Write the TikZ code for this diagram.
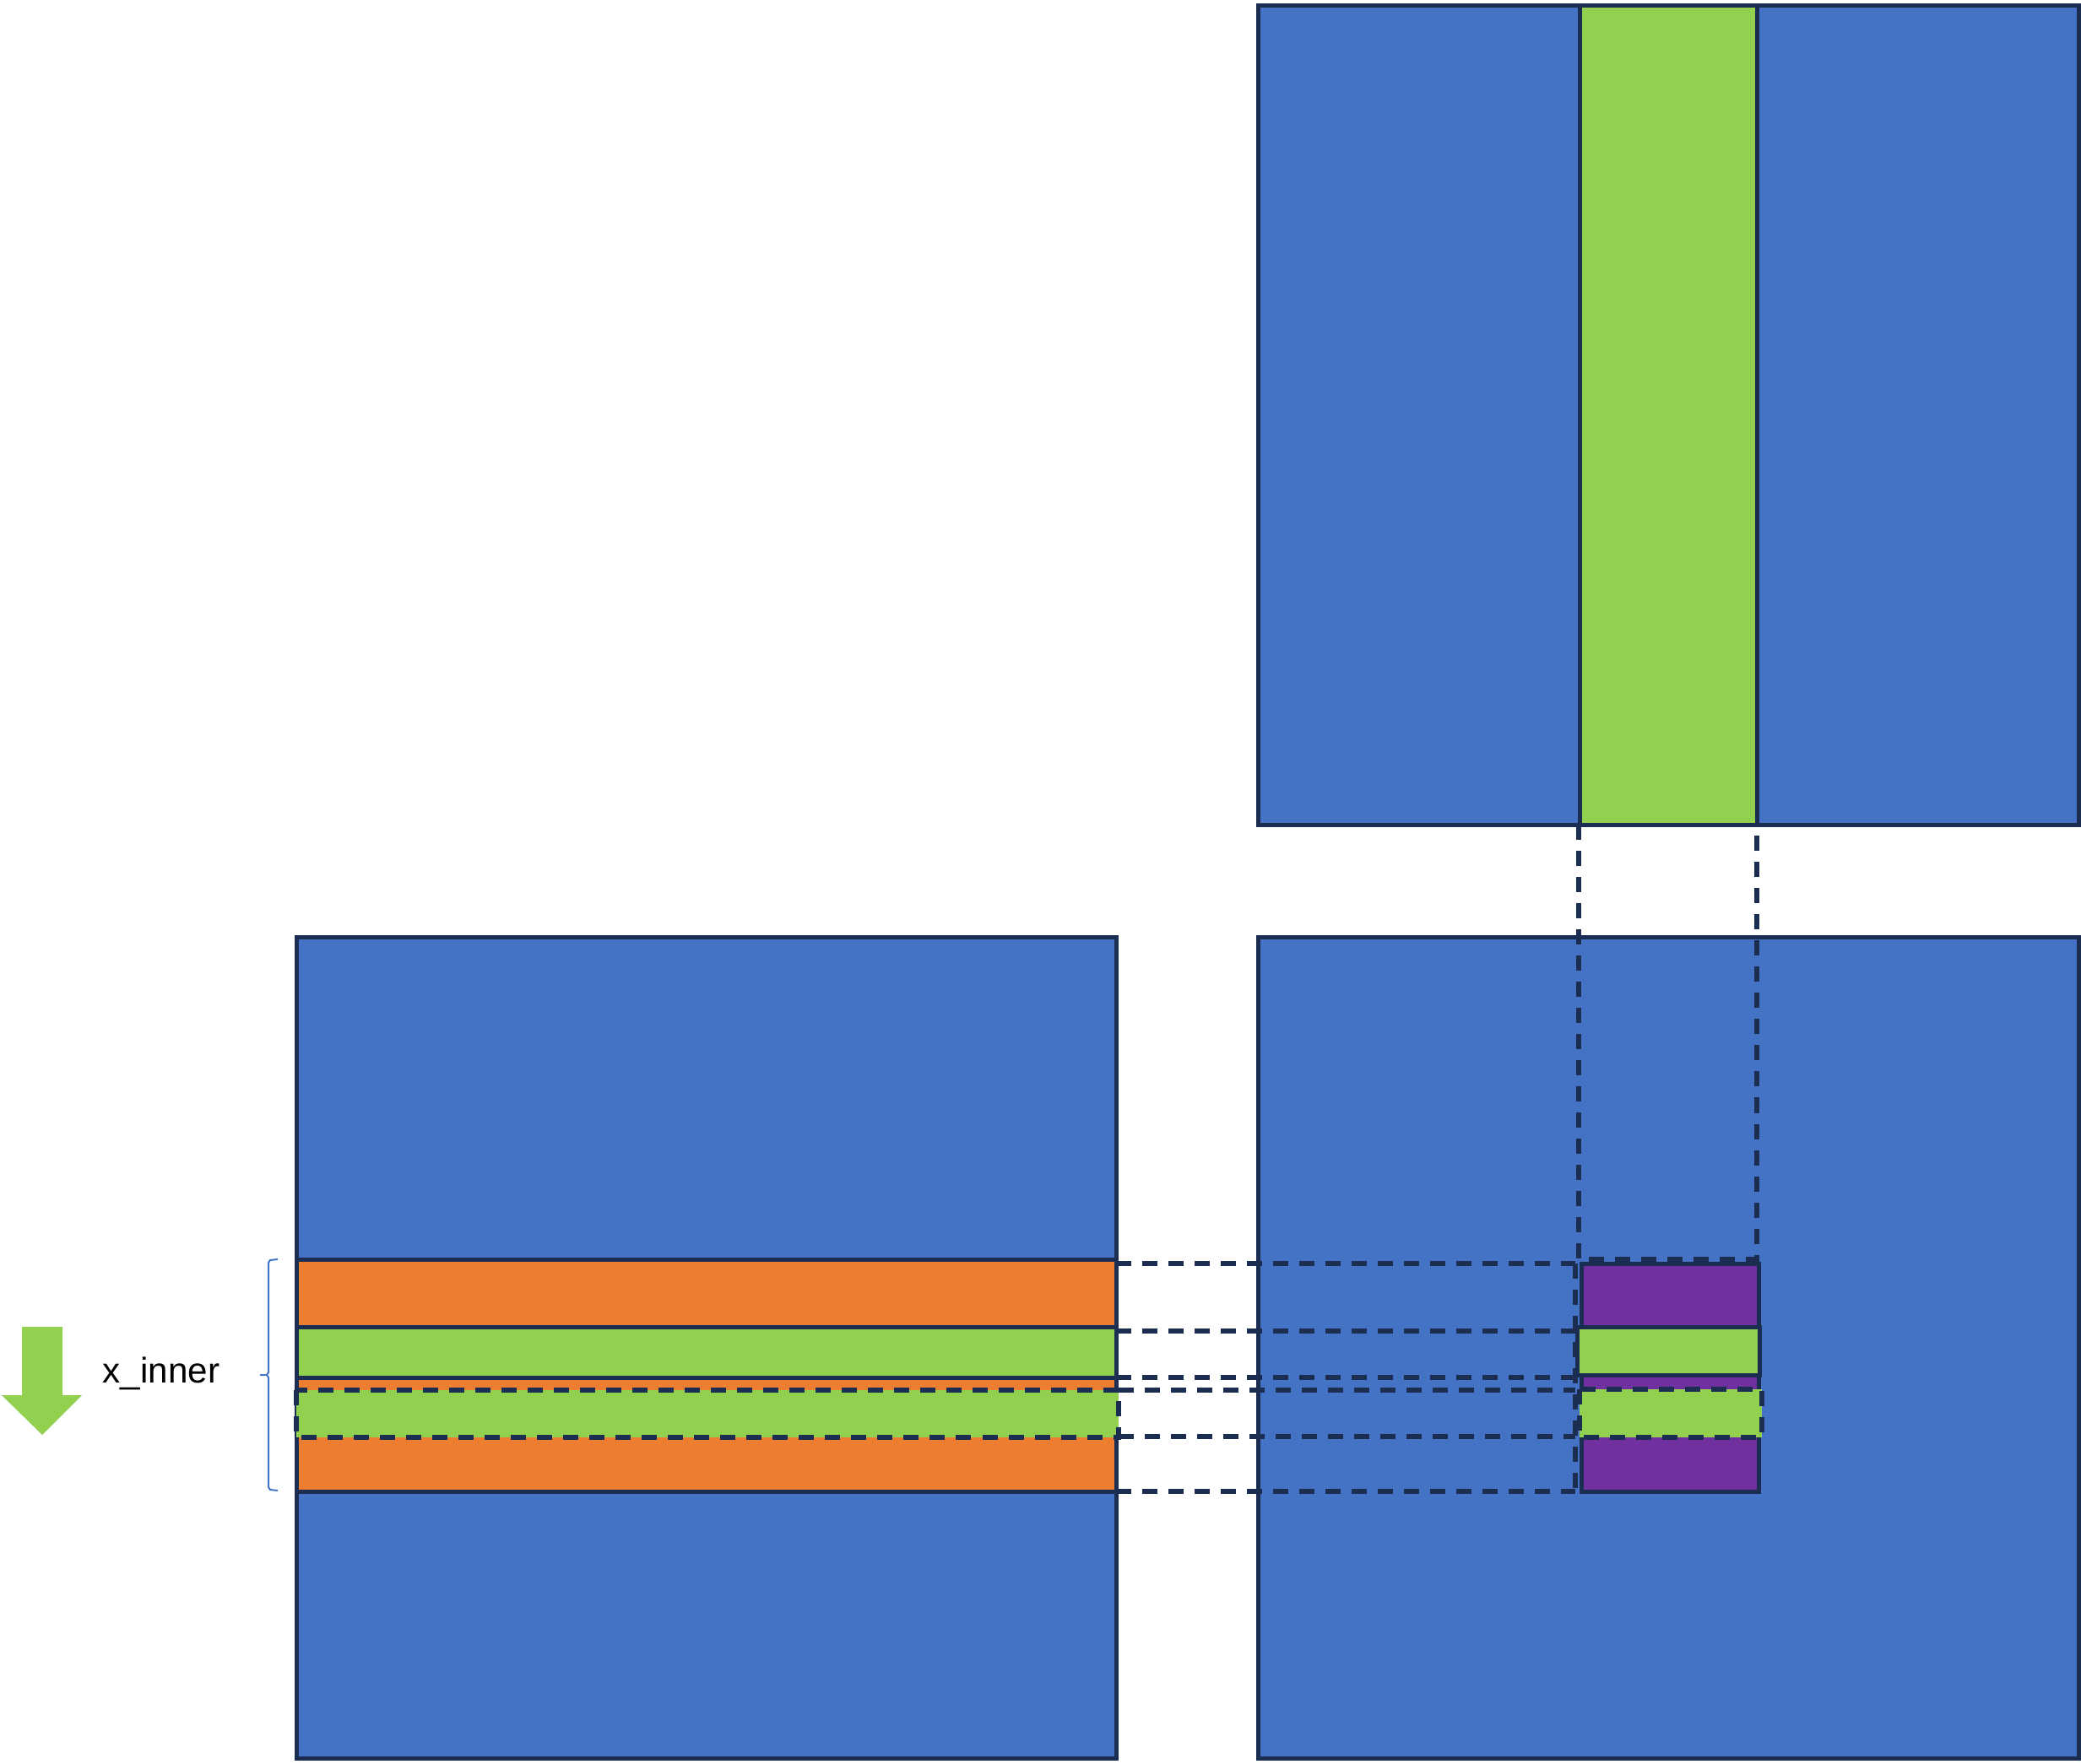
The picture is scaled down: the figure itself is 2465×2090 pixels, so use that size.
\documentclass[tikz,border=0pt]{standalone}
\usepackage{fontspec}
\setmainfont{Liberation Sans}
\usepackage{tikz}
\usetikzlibrary{positioning}
\definecolor{matblue}{HTML}{4472C4}
\definecolor{rowgreen}{HTML}{92D050}
\definecolor{roworange}{HTML}{ED7D31}
\definecolor{tilepurple}{HTML}{7030A0}
\definecolor{edgenavy}{HTML}{1B2E52}
\tikzset{
	matrix box/.style = {
		draw = edgenavy,
		fill = matblue,
		line width = 0.05cm
	},
	strip/.style = {
		draw = edgenavy,
		line width = 0.05cm
	},
	guide/.style = {
		draw = edgenavy,
		line width = 0.055cm,
		dash pattern = on 0.18cm off 0.13cm
	}
}

\begin{document}
\begin{tikzpicture}[x=0.01cm, y=-0.01cm]
    \useasboundingbox (0,0) rectangle (2465,2090) ;

    % top matrix with its column
    \draw [matrix box] (1490,6) rectangle (2462,977) ;
    \draw [strip, fill = rowgreen] (1871,6) rectangle (2081,977) ;

    % left matrix with its rows
    \draw [matrix box] (351,1110) rectangle (1322,2083) ;
    \draw [strip, fill = roworange] (351,1492) rectangle (1322,1767) ;
    \draw [strip, fill = rowgreen] (351,1572) rectangle (1322,1632) ;
    \draw [guide, fill = rowgreen] (351,1647) rectangle (1325,1703) ;

    % result matrix with its tile
    \draw [matrix box] (1490,1110) rectangle (2462,2083) ;
    \draw [strip, fill = tilepurple] (1873,1497) rectangle (2083,1767) ;
    \draw [strip, fill = rowgreen] (1868,1572) rectangle (2084,1629) ;
    \draw [guide, fill = rowgreen] (1871,1646) rectangle (2087,1703) ;

    % projection lines
    \coordinate (colL) at (1870,977) ;
    \coordinate (colR) at (2081,977) ;
    \draw [guide] (colL) -- (1870,1492) -- (2081,1492) -- (colR) ;
    \draw [guide] (1866,1497) -- (1866,1767) ;
    \foreach \y in {1497,1577,1632,1767}
        \draw [guide] (1322,\y) -- (1866,\y) ;
    \foreach \y in {1647,1702}
        \draw [guide] (1325,\y) -- (1866,\y) ;

    % loop direction
    \fill [rowgreen] (26,1572) -- (74,1572) -- (74,1653) -- (97,1653) -- (50,1700) -- (2,1653) -- (26,1653) -- cycle ;
    \node [anchor = base west, inner sep = 0pt, font = \fontsize{12pt}{14pt}\selectfont] (inner) at (121,1638) {x\_inner} ;
    \draw [matblue, line width = 0.02cm] (329,1492) -- (320,1493) -- (318,1496) -- (318,1626) -- (316,1629) -- (308,1629) -- (316,1629) -- (318,1632) -- (318,1762) -- (320,1765) -- (329,1766) ;
\end{tikzpicture}
\end{document}
